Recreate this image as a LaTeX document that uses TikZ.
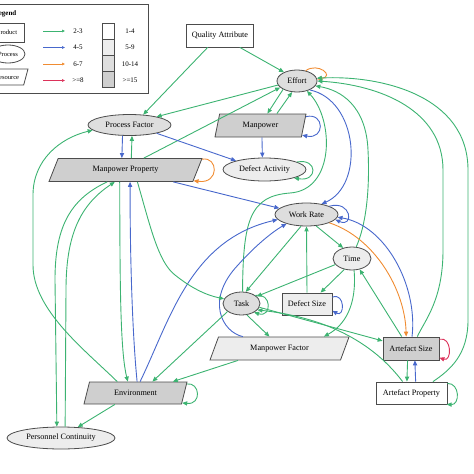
\documentclass[tikz,border=0pt]{standalone}
\usepackage{fontspec}
\setmainfont{Liberation Serif}
\usepackage{tikz}
\usetikzlibrary{arrows.meta,shapes.geometric}
\definecolor{edgegreen}{RGB}{60,179,113}
\definecolor{edgeblue}{RGB}{72,104,204}
\definecolor{edgeorange}{RGB}{240,140,50}
\definecolor{edgered}{RGB}{220,50,90}
\definecolor{fillone}{gray}{1}
\definecolor{filltwo}{gray}{0.93}
\definecolor{fillthree}{gray}{0.87}
\definecolor{fillfour}{gray}{0.81}
\tikzset{
  prod/.style={
    rectangle,
    draw=black!70,
    line width=.8pt,
    inner sep=0pt,
    font=\fontsize{8.2}{9}\selectfont
  },
  proc/.style={
    ellipse,
    draw=black!70,
    line width=.8pt,
    inner sep=0pt,
    font=\fontsize{8.2}{9}\selectfont
  },
  res/.style={
    trapezium,
    trapezium left angle=45,
    trapezium right angle=135,
    trapezium stretches body=true,
    draw=black!70,
    line width=.8pt,
    inner sep=0pt,
    font=\fontsize{8.2}{9}\selectfont
  },
  link/.style={
    -{Triangle[length=5pt,width=4.2pt]},
    line width=.9pt
  },
  arrowg/.style={link,edgegreen},
  arrowb/.style={link,edgeblue},
  arrowo/.style={link,edgeorange},
  arrowr/.style={link,edgered},
  legtext/.style={inner sep=0pt,font=\fontsize{7}{8}\selectfont},
  legshape/.style={fill=white,font=\fontsize{6.5}{7}\selectfont},
  legarrow/.style={
    -{Triangle[length=3pt,width=2.6pt]},
    line width=.6pt
  }
}

\begin{document}
\begin{tikzpicture}[x=1pt,y=-1pt]
\useasboundingbox (0,0) rectangle (474,474);

% legend
\draw[black!70,line width=.7pt] (-10,4) rectangle (148,93);
\node[legtext,anchor=west,font=\fontsize{7}{8}\selectfont\bfseries] (leg) at (-6,14) {Legend};
\node[prod,legshape,minimum width=34pt,minimum height=19pt] (lprod) at (7,32.5) {Product};
\node[proc,legshape,minimum width=34pt,minimum height=18pt] (lproc) at (8,54) {Process};
\node[res,legshape,minimum width=42pt,minimum height=16pt] (lres) at (7,77) {Resource};
\coordinate (ga) at (43,31);
\coordinate (gb) at (65,31);
\coordinate (ba) at (43,47.5);
\coordinate (bb) at (65,47.5);
\coordinate (oa) at (43,64);
\coordinate (ob) at (65,64);
\coordinate (ra) at (43,80.5);
\coordinate (rb) at (65,80.5);
\draw[legarrow,edgegreen] (ga) -- (gb);
\draw[legarrow,edgeblue] (ba) -- (bb);
\draw[legarrow,edgeorange] (oa) -- (ob);
\draw[legarrow,edgered] (ra) -- (rb);
\node[legtext] (lg) at (78,31) {2-3};
\node[legtext] (lb) at (78,47.5) {4-5};
\node[legtext] (lo) at (78,64) {6-7};
\node[legtext] (lr) at (78,80.5) {>=8};
\node[prod,fill=fillone,minimum width=12pt,minimum height=16pt] (c1) at (108,31) {};
\node[prod,fill=filltwo,minimum width=12pt,minimum height=16pt] (c2) at (108,47) {};
\node[prod,fill=fillthree,minimum width=12pt,minimum height=16pt] (c3) at (108,63) {};
\node[prod,fill=fillfour,minimum width=12pt,minimum height=16pt] (c4) at (108,79) {};
\node[legtext] (t1) at (130,31) {1-4};
\node[legtext] (t2) at (130,47.5) {5-9};
\node[legtext] (t3) at (130,64) {10-14};
\node[legtext] (t4) at (130,80.5) {>=15};

% nodes
\node[prod,fill=fillone,minimum width=67pt,minimum height=23pt] (qa) at (220,35.5) {Quality Attribute};
\node[proc,fill=fillthree,minimum width=40pt,minimum height=22pt] (eff) at (297,81) {Effort};
\node[proc,fill=fillthree,minimum width=83pt,minimum height=21pt] (pf) at (129.5,125) {Process Factor};
\node[res,fill=fillfour,minimum width=91pt,minimum height=23pt,trapezium left angle=57,trapezium right angle=123] (mp) at (260.5,125.5) {Manpower};
\node[res,fill=fillfour,minimum width=153pt,minimum height=23pt,trapezium left angle=38,trapezium right angle=142] (mprop) at (125.5,170) {Manpower Property};
\node[proc,fill=filltwo,minimum width=83pt,minimum height=23pt] (da) at (264.5,169.5) {Defect Activity};
\node[proc,fill=fillthree,minimum width=63pt,minimum height=23pt] (wr) at (306.5,214.5) {Work Rate};
\node[proc,fill=filltwo,minimum width=38pt,minimum height=23pt] (time) at (352,258.5) {Time};
\node[proc,fill=fillthree,minimum width=37pt,minimum height=23pt] (task) at (241.5,303.5) {Task};
\node[prod,fill=filltwo,minimum width=50pt,minimum height=22pt] (ds) at (307,304) {Defect Size};
\node[res,fill=filltwo,minimum width=139pt,minimum height=23pt,trapezium left angle=40,trapezium right angle=140] (mf) at (279.5,348.5) {Manpower Factor};
\node[prod,fill=fillfour,minimum width=56pt,minimum height=23pt] (as) at (411,348.5) {Artefact Size};
\node[prod,fill=fillone,minimum width=71pt,minimum height=22pt] (ap) at (411.5,393) {Artefact Property};
\node[res,fill=fillfour,minimum width=103pt,minimum height=22pt] (env) at (135.5,393) {Environment};
\node[proc,fill=filltwo,minimum width=108pt,minimum height=22pt] (pc) at (61,438) {Personnel Continuity};

% upper part
\draw[arrowg] (qa.-31) -- (eff.146);
\draw[arrowg] (qa.-136) -- (pf.37);
\draw[arrowg] (eff.192) -- (pf.17);
\draw[arrowg] (mprop.33) -- (eff.201);
\draw[arrowg] (eff.-149) -- (mp.60);
\draw[arrowg] (mp.36) -- (eff.-114);
\draw[arrowb] (mp.11) .. controls (325,112) and (325,140) .. (mp.-13);
\draw[arrowb] (mp.-83) -- (da.100);
\draw[arrowb] (pf.-123) -- (mprop.107);
\draw[arrowg] (mprop.64) -- (pf.-77);
\draw[arrowb] (pf.-17) -- (da.163);
\draw[arrowo] (mprop.8) .. controls (218,156) and (220,184) .. (mprop.-9);
\draw[arrowb] (mprop.-14) -- (wr.167);
\draw[arrowg] (da.13) .. controls (318,158) and (318,182) .. (da.-16);
\draw[arrowo] (eff.50) .. controls (318,62) and (335,76) .. (eff.5);
\draw[arrowb] (eff.-35) .. controls (358,100) and (365,185) .. (wr.35);

% long edges into effort
\draw[arrowg] (task.85) .. controls (243,220) and (250,196) .. (290,193)
  .. controls (335,190) and (334,120) .. (eff.-45);
\draw[arrowg] (time.70) .. controls (366,225) and (370,190) .. (368,150)
  .. controls (366,105) and (340,90) .. (eff.-15);
\draw[arrowg] (as.62) .. controls (425,320) and (443,300) .. (443,250) -- (443,170)
  .. controls (443,110) and (380,85) .. (eff.0);
\draw[arrowg] (ap.28) .. controls (450,370) and (468,355) .. (468,320) -- (468,170)
  .. controls (468,95) and (380,75) .. (eff.8);

% middle part
\draw[arrowb] (wr.20) .. controls (352,200) and (354,228) .. (wr.-10);
\draw[arrowg] (wr.-50) -- (time.130);
\draw[arrowg] (time.-125) -- (ds.40);
\draw[arrowg] (time.-160) -- (task.25);
\draw[arrowg] (wr.-115) -- (task.70);
\draw[arrowg] (ds.north) -- (wr.south);
\draw[arrowb] (ds.15) .. controls (345,292) and (345,318) .. (ds.-15);
\draw[arrowg] (task.30) .. controls (272,292) and (272,318) .. (task.-35);
\draw[arrowg] (as.128) -- (time.-55);
\draw[arrowo] (wr.-20) .. controls (375,238) and (405,290) .. (as.112);
\draw[arrowb] (as.85) .. controls (418,285) and (385,225) .. (wr.-5);
\draw[arrowg] (task.-12) -- (as.165);
\draw[arrowg] (ap.128) .. controls (375,345) and (330,318) .. (task.-22);
\draw[arrowg] (time.-80) .. controls (357,305) and (345,325) .. (mf.15);
\draw[arrowg] (task.-65) -- (mf.130);
\draw[arrowb] (mf.162) .. controls (222,332) and (205,300) .. (238,265)
  .. controls (254,247) and (272,232) .. (wr.-155);
\draw[arrowb] (env.68) .. controls (170,320) and (190,240) .. (wr.190);

% lower part
\draw[arrowg] (task.-150) -- (env.34);
\draw[arrowg] (mf.-164) -- (env.17);
\draw[arrowg] (env.10) .. controls (200,382) and (202,405) .. (env.-12);
\draw[arrowg] (env.-151) -- (pc.33);
\draw[arrowg] (env.148) .. controls (85,350) and (33,310) .. (33,265) -- (33,195)
  .. controls (33,160) and (60,138) .. (pf.188);
\draw[arrowg] (mprop.-147) .. controls (68,200) and (55,230) .. (55,280) -- (pc.110);
\draw[arrowg] (pc.70) -- (66,290) .. controls (66,235) and (80,205) .. (mprop.-132);
\draw[arrowg] (mprop.-116) .. controls (120,280) and (120,350) .. (env.124);
\draw[arrowb] (env.82) .. controls (132,330) and (130,250) .. (mprop.-69);
\draw[arrowg] (mprop.-45) .. controls (150,225) and (158,262) .. (175,275)
  .. controls (190,287) and (205,295) .. (task.165);
\draw[arrowg] (as.-106) -- (ap.112);
\draw[arrowb] (ap.70) -- (as.-72);
\draw[arrowr] (as.18) .. controls (452,336) and (452,362) .. (as.-18);
\draw[arrowg] (ap.15) .. controls (460,383) and (460,405) .. (ap.-18);
\end{tikzpicture}
\end{document}
